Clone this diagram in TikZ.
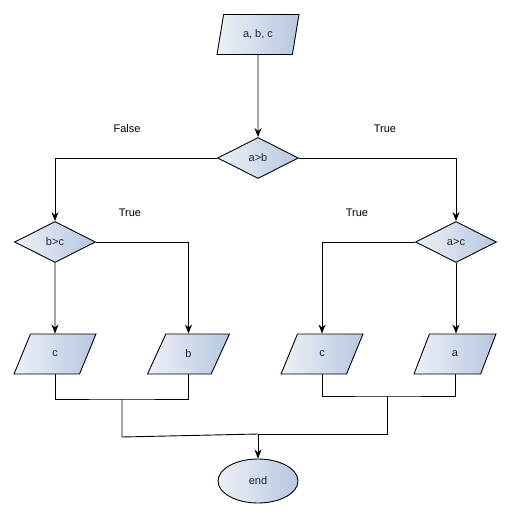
\documentclass[tikz,border=0pt]{standalone}
\usepackage{fontspec}
\setmainfont{Liberation Sans}
\usetikzlibrary{shapes.geometric,arrows.meta}
\definecolor{fillL}{HTML}{EDF1F8}
\definecolor{fillR}{HTML}{B6C7DF}
\begin{document}
\begin{tikzpicture}[x=1pt,y=-1pt,
  font=\fontsize{11}{13}\selectfont,
  shp/.style={draw=black,line width=0.9pt,left color=fillL,right color=fillR,inner sep=0pt,text=black!85},
  iobox/.style={shp,trapezium,trapezium left angle=73,trapezium right angle=107,trapezium stretches=true,minimum width=82pt,minimum height=40pt},
  dec/.style={shp,diamond,minimum width=81pt,minimum height=41pt},
  term/.style={shp,ellipse,minimum width=80pt,minimum height=44pt},
  lbl/.style={inner sep=0pt,text=black},
  line/.style={draw=black,line width=0.9pt},
  arr/.style={line,-{Stealth[length=9pt,width=7pt]}}]
\useasboundingbox (0,0) rectangle (509,518);
\node[iobox] (in) at (258,34.5) {a, b, c};
\node[dec] (ab) at (258,158) {a>b};
\node[dec] (bc) at (55,242) {b>c};
\node[dec] (ac) at (456,242) {a>c};
\node[iobox] (c1) at (55,354) {c};
\node[iobox] (b) at (188.5,354) {b};
\node[iobox] (c2) at (322,354) {c};
\node[iobox] (a) at (455,354) {a};
\node[term] (end) at (258,481) {end};
\node[lbl] (f1) at (127,129) {False};
\node[lbl] (t1) at (385,129) {True};
\node[lbl] (t2) at (130,213) {True};
\node[lbl] (t3) at (357,213) {True};
\coordinate (ml) at (122,399);
\coordinate (mr) at (387,396);
\coordinate (j) at (258,434);
\draw[arr] (in.south) -- (ab.north);
\draw[arr] (ab.west) -| (bc.north);
\draw[arr] (ab.east) -| (ac.north);
\draw[arr] (bc.south) -- (c1.north);
\draw[arr] (bc.east) -| (b.north);
\draw[arr] (ac.west) -| (c2.north);
\draw[arr] (ac.south) -- (ac.south |- a.north);
\draw[line] (c1.south) |- (ml) -| (b.south);
\draw[line] (c2.south) |- (mr) -| (a.south);
\draw[line] (ml) -- (122,437) -- (j);
\draw[line] (mr) |- (j);
\draw[arr] (j) -- (end.north);
\end{tikzpicture}
\end{document}
